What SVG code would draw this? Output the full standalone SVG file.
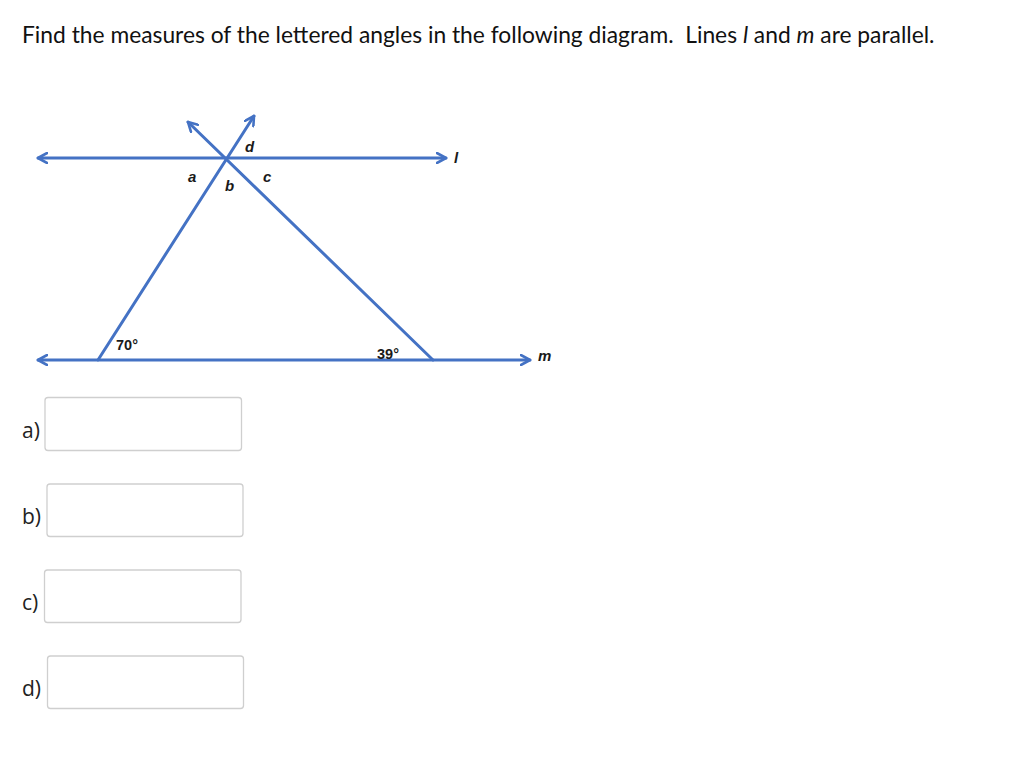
<svg xmlns="http://www.w3.org/2000/svg" width="1024" height="759" viewBox="0 0 1024 759">
<style>
.ln{stroke:#4472C4;stroke-width:3;fill:none;stroke-linecap:round}
.lbl{font-family:"Liberation Sans",Arial,sans-serif;font-weight:bold;fill:#1a1a1a}
.it{font-style:italic}
.title{font-family:Lato,"Noto Sans",sans-serif;font-size:22.8px;fill:#111}
.opt{font-family:"Open Sans","Noto Sans",sans-serif;font-size:21px;fill:#222}
.box{fill:#fff;stroke:#cfcfcf;stroke-width:1.3}
</style>
<defs>
<marker id="ah" viewBox="0 0 12 12" refX="10" refY="6" markerWidth="12" markerHeight="12" markerUnits="userSpaceOnUse" orient="auto-start-reverse">
<path d="M1,1 L10,6 L1,11" fill="none" stroke="#4472C4" stroke-width="2.6" stroke-linecap="round" stroke-linejoin="round"/>
</marker>
</defs>
<rect width="1024" height="759" fill="#fff"/>
<text class="title" x="22" y="43" xml:space="preserve">Find the measures of the lettered angles in the following diagram.  Lines <tspan font-style="italic">l</tspan> and <tspan font-style="italic">m</tspan> are parallel.</text>
<g id="connectors">
<line id="line-l" class="ln" x1="38" y1="158" x2="446" y2="158" marker-start="url(#ah)" marker-end="url(#ah)"/>
<line id="line-m" class="ln" x1="38" y1="360" x2="530" y2="360" marker-start="url(#ah)" marker-end="url(#ah)"/>
<line id="transversal-1" class="ln" x1="98" y1="360" x2="254" y2="116" marker-end="url(#ah)"/>
<line id="transversal-2" class="ln" x1="433" y1="360" x2="188" y2="122" marker-end="url(#ah)"/>
</g>
<g id="labels">
<text class="lbl it" x="188" y="182" font-size="15">a</text>
<text class="lbl it" x="225" y="191" font-size="15">b</text>
<text class="lbl it" x="263" y="182" font-size="15">c</text>
<text class="lbl it" x="245" y="152" font-size="15">d</text>
<text class="lbl it" x="454" y="163" font-size="15">l</text>
<text class="lbl it" x="538" y="361" font-size="15">m</text>
<text class="lbl" x="116" y="350" font-size="14.5">70°</text>
<text class="lbl" x="377" y="359" font-size="14.5">39°</text>
</g>
<g id="answer-a">
<text class="opt" x="22" y="438">a)</text>
<rect class="box" x="45" y="397.5" width="196.5" height="53" rx="3"/>
</g>
<g id="answer-b">
<text class="opt" x="22" y="524">b)</text>
<rect class="box" x="47" y="484" width="196" height="52.5" rx="3"/>
</g>
<g id="answer-c">
<text class="opt" x="22" y="610">c)</text>
<rect class="box" x="44.5" y="570" width="196.5" height="52.5" rx="3"/>
</g>
<g id="answer-d">
<text class="opt" x="22" y="696">d)</text>
<rect class="box" x="47.5" y="656" width="196" height="52.5" rx="3"/>
</g>
</svg>
